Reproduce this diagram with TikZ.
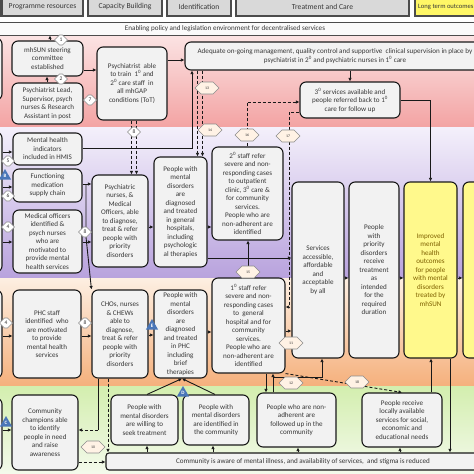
\documentclass[tikz,border=0pt]{standalone}
\usepackage{fontspec}
\setmainfont{Carlito}
\usetikzlibrary{positioning,calc,arrows.meta,shapes,shapes.geometric,shapes.symbols}
\definecolor{pinkA}{HTML}{FBE3E3}
\definecolor{pinkB}{HTML}{F3A3A3}
\definecolor{lavA}{HTML}{F4F0FB}
\definecolor{lavB}{HTML}{B8A2DD}
\definecolor{orA}{HTML}{FDEFE2}
\definecolor{orB}{HTML}{F5B07C}
\definecolor{grA}{HTML}{D3EEAE}
\definecolor{grB}{HTML}{F4FAEC}
\definecolor{triblue}{HTML}{4A76B8}
\definecolor{olivetxt}{HTML}{7F6000}
\newcommand{\bfnt}{\fontsize{7.1}{8.5}\selectfont}
\tikzset{box0/.style={draw=black!90, line width=1.1pt, rounded corners=6, fill=black!5, text=black!78, align=center, inner sep=0.5pt, font=\bfnt}}
\tikzset{ybox/.style={box0, fill=yellow!45, text=olivetxt}}
\tikzset{hdr0/.style={draw=black!70, line width=1.2pt, fill=black!15, text=black!78, inner sep=0pt, minimum height=19pt, font=\fontsize{7.6}{9}\selectfont}}
\tikzset{hex0/.style={signal, signal to=east and west, draw=black!45, line width=0.6pt, fill=white, text=black!80, inner sep=0pt, minimum width=13pt, minimum height=10pt, font=\fontsize{5.5}{6}\selectfont}}
\tikzset{hex1/.style={hex0, fill=orange!10, minimum width=24pt, minimum height=12pt, font=\fontsize{3.8}{4}\selectfont}}
\tikzset{tri0/.style={regular polygon, regular polygon sides=3, fill=triblue, text=white, inner sep=0pt, minimum size=14pt, font=\fontsize{5}{5}\selectfont\bfseries}}
\tikzset{line0/.style={draw=black!90, line width=0.9pt}}
\tikzset{arr1/.style={line0, -{Latex[length=3.5pt,width=3.5pt]}}}
\tikzset{arr2/.style={arr1, dash pattern=on 3pt off 2pt}}
\newcommand{\ddash}[2]{\draw[arr2] ([xshift=-2.5pt]#1) -- ([xshift=-2.5pt]#2); \draw[arr2] ([xshift=2.5pt]#1) -- ([xshift=2.5pt]#2);}

\begin{document}
\begin{tikzpicture}[x=1pt,y=-1pt]
\useasboundingbox (0,0) rectangle (474,474);
\clip (0,0) rectangle (474,474);
\shade[top color=pinkA, bottom color=pinkB] (0,36) rectangle (474,127);
\shade[top color=lavA, bottom color=lavB] (0,127) rectangle (474,278);
\shade[top color=orA, bottom color=orB] (0,278) rectangle (474,386);
\shade[top color=grA, bottom color=grB] (0,386) rectangle (474,474);

\node[hdr0, minimum width=60pt] (H0) at (-29,6.5) {};
\node[hdr0, minimum width=81pt] (H1) at (42.5,6.5) {Programme resources};
\node[hdr0, minimum width=74pt] (H2) at (125,6.5) {Capacity Building};
\node[hdr0, minimum width=64pt] (H3) at (199,6.5) {Identification};
\node[hdr0, minimum width=173pt] (H4) at (322.5,6.5) {Treatment and Care};
\node[hdr0, fill=yellow!60, minimum width=100pt] (H5) at (465,6.5) {};
\node[text=black!78, font=\fontsize{6.6}{8}\selectfont, anchor=west, inner sep=0pt] (H5t) at (418,6.5) {Long term outcomes};
\node[hdr0, fill=black!2, line width=1pt, minimum width=500pt, minimum height=13pt, font=\bfnt] (pol) at (225,28.5) {Enabling policy and legislation environment for decentralised services};

\node[box0, minimum width=60pt, minimum height=62pt] (P1) at (-28,69) {};
\node[box0, minimum width=60pt, minimum height=140pt] (P2) at (-28,202) {};
\node[box0, minimum width=60pt, minimum height=88pt] (P3) at (-28,334) {};
\node[box0, minimum width=60pt, minimum height=72pt] (P4) at (-28,434) {};

\node[box0, minimum width=71pt, minimum height=35pt] (steer) at (47.5,58.5) {mhSUN steering\\committee\\established};
\node[box0, minimum width=71pt, minimum height=41pt] (lead) at (47.5,103.5) {Psychiatrist Lead,\\Supervisor, psych\\nurses \& Research\\Assistant in post};
\node[box0, minimum width=70pt, minimum height=73pt] (tot) at (132,83.5) {Psychiatrist~ able\\to train~ 1\textsuperscript{0} and\\2\textsuperscript{0} care staff~ in\\all mhGAP\\conditions (ToT)};
\node[box0, minimum width=300pt, minimum height=28pt] (mgmt) at (335,56) {Adequate on-going management, quality control and supportive~ clinical supervision in place by\\psychiatrist in 2\textsuperscript{0} and psychiatric nurses in 1\textsuperscript{0} care};
\node[box0, minimum width=100pt, minimum height=36pt] (tert) at (350,100) {3\textsuperscript{0} services available and\\people referred back to 1\textsuperscript{0}\\care for follow up};

\node[box0, minimum width=69pt, minimum height=32pt] (hmis) at (47.5,149) {Mental health\\indicators\\included in HMIS};
\node[box0, minimum width=69pt, minimum height=33pt] (supply) at (47.5,185.5) {Functioning\\medication\\supply chain};
\node[box0, minimum width=69pt, minimum height=63pt] (medoff) at (47.5,241.5) {Medical officers\\identified \&\\psych nurses\\who are\\motivated to\\provide mental\\health services};
\node[box0, minimum width=56pt, minimum height=92pt] (pnurse) at (120,221) {Psychiatric\\nurses, \&\\Medical\\Officers, able\\to diagnose,\\treat \& refer\\people with\\priority\\disorders};
\node[box0, minimum width=53pt, minimum height=110pt] (genhosp) at (180.5,212) {People with\\mental\\disorders\\are\\diagnosed\\and treated\\in general\\hospitals,\\including\\psychologic\\al therapies};
\node[box0, minimum width=71pt, minimum height=93pt] (sec) at (247.5,193.5) {2\textsuperscript{0} staff refer\\severe and non-\\responding cases\\to outpatient\\clinic, 3\textsuperscript{0} care \&\\for community\\services.\\People who are\\non-adherent are\\identified};

\node[box0, minimum width=52pt, minimum height=176pt] (access) at (318,270) {Services\\accessible,\\affordable\\and\\acceptable\\by all};
\node[box0, minimum width=50pt, minimum height=176pt] (prio) at (374,270) {People\\with\\priority\\disorders\\receive\\treatment\\as\\intended\\for the\\required\\duration};
\node[ybox, minimum width=53pt, minimum height=176pt] (improved) at (430.5,270) {Improved\\mental\\health\\outcomes\\for people\\with mental\\disorders\\treated by\\mhSUN};
\node[ybox, minimum width=57pt, minimum height=176pt] (P5) at (491.5,270) {};

\node[box0, minimum width=68pt, minimum height=88pt] (phcstaff) at (47,334) {PHC staff\\identified~ who\\are motivated\\to provide\\mental health\\services};
\node[box0, minimum width=56pt, minimum height=88pt] (chos) at (120,334) {CHOs, nurses\\\& CHEWs\\able to\\diagnose,\\treat \& refer\\people with\\priority\\disorders};
\node[box0, minimum width=53pt, minimum height=88pt] (phcdx) at (180.5,334) {People with\\mental\\disorders\\are\\diagnosed\\and treated\\in PHC\\including\\brief\\therapies};
\node[box0, minimum width=73pt, minimum height=95pt] (prim) at (248.5,325.5) {1\textsuperscript{0} staff refer\\severe and non-\\responding cases\\to~ general\\hospital and for\\community\\services.\\People who are\\non-adherent are\\identified};

\node[box0, minimum width=66pt, minimum height=75pt] (champ) at (45,432.5) {Community\\champions able\\to identify\\people in need\\and raise\\awareness};
\node[box0, minimum width=67pt, minimum height=50pt] (willing) at (144.5,420) {People with\\mental disorders\\are willing to\\seek treatment};
\node[box0, minimum width=66pt, minimum height=50pt] (ident) at (216,420) {People with\\mental disorders\\are identified in\\the community};
\node[box0, minimum width=79pt, minimum height=54pt] (nonadh) at (296.5,420) {People who are non-\\adherent are\\followed up in the\\community};
\node[box0, minimum width=80pt, minimum height=54pt] (local) at (402,420) {People receive\\locally available\\services for social,\\economic and\\educational needs};
\node[box0, rounded corners=3, minimum width=394pt, minimum height=17pt] (comm) at (303,461.5) {Community is aware of mental illness, and availability of services,~ and stigma is reduced};

\draw[arr1] (steer.north -| 50,0) -- (pol.south -| 50,0);
\draw[arr1] (lead.north -| 47,0) -- (steer.south -| 47,0);
\draw[arr1] (steer.east |- 0,70) -- (tot.west |- 0,70);
\draw[arr1] (lead.east |- 0,100) -- (tot.west |- 0,100);
\draw[arr1] (tot.east |- 0,60) -- (mgmt.west |- 0,60);
\draw[arr1] (mgmt.south -| 350,0) -- (tert.north -| 350,0);
\draw[arr1] (tert.east) -| (improved.north);
\coordinate (c1) at (tot.south -| 134,0);
\coordinate (c2) at (pnurse.north -| 134,0);
\ddash{c1}{c2}
\coordinate (c3) at (mgmt.south -| 200,0);
\coordinate (c4) at (genhosp.north -| 200,0);
\ddash{c3}{c4}
\draw[arr1] (hmis.east |- 0,148) -| (mgmt.south -| 192,0);
\draw[arr2] (sec.north -| 247,0) |- (tert.west |- 0,102);
\draw[arr2] (tert.west |- 0,112) -| (289,307) -- (prim.east |- 0,307);

\draw[arr1] (P2.east |- 0,152) -- (hmis.west |- 0,152);
\draw[arr1] (P2.east |- 0,187) -- (supply.west |- 0,187);
\draw[arr1] (P2.east |- 0,242) -- (medoff.west |- 0,242);
\draw[arr1] (P3.east |- 0,336) -- (phcstaff.west |- 0,336);
\draw[arr1] (P4.east |- 0,430) -- (champ.west |- 0,430);
\draw[arr1] (supply.east |- 0,184) -- (pnurse.west |- 0,184);
\coordinate (j1) at (86,184);
\draw[arr1] (j1) -- (86,237) -- (chos.north west);
\draw[arr1] (medoff.east |- 0,242) -- (pnurse.west |- 0,242);
\draw[arr1] (pnurse.east |- 0,227) -- (genhosp.west |- 0,227);
\draw[arr1] (genhosp.east |- 0,227) -- (sec.west |- 0,227);
\draw[arr1] (genhosp.east |- 0,258) -- (access.west |- 0,258);
\draw[arr1] (prim.north -| 248,0) -- (sec.south -| 248,0);
\draw[arr1] (access.east |- 0,278) -- (prio.west |- 0,278);
\draw[arr1] (prio.east |- 0,278) -- (improved.west |- 0,278);
\draw[arr1] (improved.east |- 0,278) -- (P5.west |- 0,278);

\draw[arr1] (phcstaff.east |- 0,336) -- (chos.west |- 0,336);
\draw[arr1] (chos.east |- 0,335) -- (phcdx.west |- 0,335);
\draw[arr1] (phcdx.east |- 0,332) -- (prim.west |- 0,332);
\draw[arr1] (prim.east |- 0,331) -- (access.west |- 0,331);
\coordinate (j2) at (98,430);
\draw[line0] (chos.south -| 98,0) -- (j2);
\draw[arr2] (j2) -- (champ.east |- j2);
\draw[arr2] (chos.south -| 108,0) -- (comm.north -| 108,0);
\draw[arr2] (champ.east |- 0,462) -- (comm.west |- 0,462);
\draw[arr1] (willing.north -| 147,0) -- (phcdx.south -| 182,0);
\draw[arr1] (ident.north -| 215,0) -- (phcdx.south -| 182,0);
\draw[arr1] (comm.north -| 147,0) -- (willing.south -| 147,0);
\draw[arr1] (comm.north -| 213,0) -- (ident.south -| 213,0);
\draw[arr1] (comm.north -| 298,0) -- (nonadh.south -| 298,0);
\draw[arr1] (comm.north -| 400,0) -- (local.south -| 400,0);
\draw[arr1] (improved.south -| 450,0) -- (comm.north -| 450,0);
\draw[arr1] (local.north -| 431,0) -- (improved.south -| 431,0);
\draw[arr1] (prim.south -| 266,0) -- (nonadh.north -| 266,0);
\draw[arr1] (nonadh.north -| 273,0) -- (prim.south -| 273,0);
\coordinate (j4) at (273,377);
\draw[arr1] (j4) -| (access.south -| 322,0);
\draw[arr2] (prim.south east) -- (local.north);

\node[hex0] (n1) at (61,40) {1};
\node[hex0] (n2) at (61,79) {2};
\node[hex0] (n7) at (90,100) {7};
\node[hex0] (n8a) at (134,132) {8};
\node[hex1] (n13) at (207,88) {13};
\node[hex1] (n14) at (210,130) {14};
\node[hex1] (n16) at (247,135) {16};
\node[hex1] (n17) at (288,136) {17};
\node[hex0] (n5) at (8,161) {5};
\node[hex0] (n6) at (8,196) {6};
\node[hex0] (n4a) at (8,227) {4};
\node[hex0] (n8b) at (85,232) {8};
\node[hex1] (n15) at (248,272) {15};
\node[hex0] (n4b) at (6,323) {4};
\node[hex0] (n8c) at (85,323) {8};
\node[hex1] (n11) at (291,343) {11};
\node[hex1] (n12) at (291,383) {12};
\node[hex1] (n18) at (357,382) {18};
\node[hex1] (n10) at (93,447) {10};

\node[tri0] (tB) at (5,176) {B};
\node[tri0] (tC) at (6,423) {C};
\node[tri0] (tD) at (183,393) {D};
\node[tri0] (tE) at (152,326) {E};
\end{tikzpicture}
\end{document}
